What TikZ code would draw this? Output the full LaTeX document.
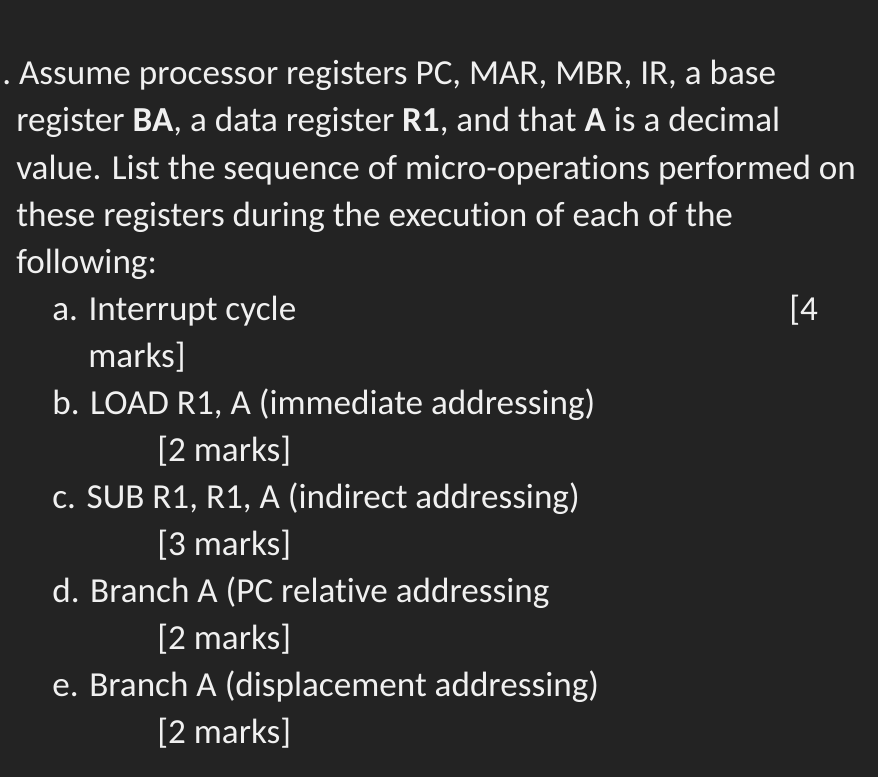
\documentclass[tikz,border=0pt]{standalone}
\usepackage{fontspec}
\setmainfont[Ligatures=NoCommon]{Carlito}
\definecolor{bgdark}{HTML}{232323}
\definecolor{textlight}{HTML}{F0F0F0}
\tikzstyle{txt}=[anchor=base west, inner sep=0pt, text=textlight, font={\fontsize{20pt}{23pt}\selectfont}]
\begin{document}
\begin{tikzpicture}[x=0.02cm, y=-0.02cm]

    \fill[bgdark] (0, 0) rectangle (878, 777);
    \useasboundingbox (0, 0) rectangle (878, 777);

    \node[txt] (l1) at (2, 85) {.\ Assume processor registers PC, MAR, MBR, IR, a base};
    \node[txt] (l2) at (16, 132) {register \textbf{BA}, a data register \textbf{R1}, and that \textbf{A} is a decimal};
    \node[txt] (l3) at (16, 179) {value. List the sequence of micro-operations performed on};
    \node[txt] (l4) at (16, 226) {these registers during the execution of each of the};
    \node[txt] (l5) at (16, 273) {following:};

    \node[txt] (qa) at (52, 320) {a. Interrupt cycle};
    \node[txt] (qamark) at (789, 320) {[4};
    \node[txt] (qamark2) at (88, 367) {marks]};
    \node[txt] (qb) at (52, 414) {b. LOAD R1, A (immediate addressing)};
    \node[txt] (qbmark) at (157, 461) {[2 marks]};
    \node[txt] (qc) at (52, 508) {c. SUB R1, R1, A (indirect addressing)};
    \node[txt] (qcmark) at (157, 555) {[3 marks]};
    \node[txt] (qd) at (52, 602) {d. Branch A (PC relative addressing};
    \node[txt] (qdmark) at (157, 649) {[2 marks]};
    \node[txt] (qe) at (52, 696) {e. Branch A (displacement addressing)};
    \node[txt] (qemark) at (157, 743) {[2 marks]};

\end{tikzpicture}
\end{document}
